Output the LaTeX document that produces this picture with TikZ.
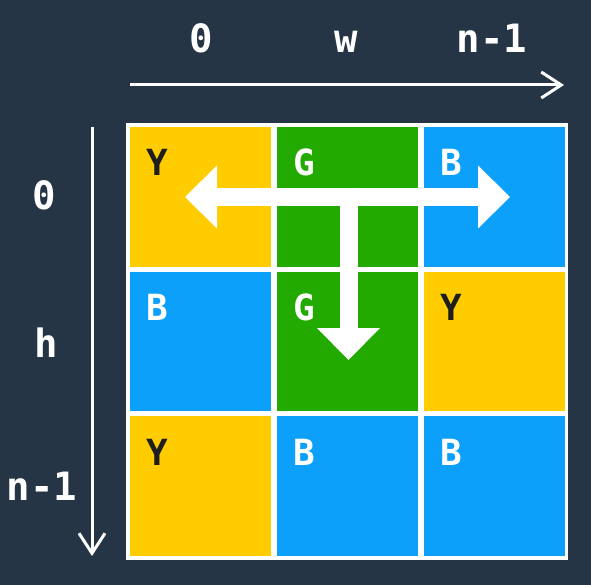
\documentclass[tikz,border=0pt]{standalone}
\usepackage{fontspec}
\setmonofont{DejaVu Sans Mono}
\usetikzlibrary{arrows.meta,positioning}

\definecolor{bgnavy}{RGB}{38,53,70}
\definecolor{yel}{RGB}{255,204,0}
\definecolor{grn}{RGB}{34,170,0}
\definecolor{blu}{RGB}{12,160,250}
\definecolor{ink}{RGB}{30,30,30}

\begin{document}
\begin{tikzpicture}[x=1pt, y=-1pt,
    cell/.style={anchor=north west, minimum width=141pt, minimum height=139.5pt, inner sep=0pt, outer sep=0pt},
    tag/.style={anchor=base, inner sep=0pt, font=\ttfamily\bfseries\fontsize{36}{36}\selectfont},
    axislab/.style={anchor=base, inner sep=0pt, text=white, font=\ttfamily\bfseries\fontsize{39}{39}\selectfont},
    axis/.style={white, line width=3pt, -{Straight Barb[length=20pt,width=26pt]}},
    bigarrow/.style={white, line width=18pt},
    bigtip/.tip={Triangle[length=32pt,width=63pt,line width=0pt]}]
    % 背景
    \fill[bgnavy] (0,0) rectangle (591,585);
    \fill[white] (126,123) rectangle (568,560);

    % 网格单元 (行/列/颜色/字母/字色)
    \foreach \r/\c/\col/\txt/\tcol in {1/1/yel/Y/ink, 1/2/grn/G/white, 1/3/blu/B/white,
                                        2/1/blu/B/white, 2/2/grn/G/white, 2/3/yel/Y/ink,
                                        3/1/yel/Y/ink, 3/2/blu/B/white, 3/3/blu/B/white} {
        \node[cell, fill=\col] (c\r\c) at ({130+147*(\c-1)},{127+144.5*(\r-1)}) {};
        \node[tag, text=\tcol] (t\r\c) at ([xshift=27pt,yshift=-49pt]c\r\c.north west) {\txt};
    }

    % 横轴
    \coordinate (xs) at (130,85);
    \coordinate (xe) at (564,85);
    \draw[axis] (xs) -- (xe);
    \node[axislab] (x0) at (201,53) {0};
    \node[axislab] (xw) at (346.5,53) {w};
    \node[axislab] (xn) at (492,53) {n-1};

    % 纵轴
    \coordinate (ys) at (92,127);
    \coordinate (ye) at (92,556);
    \draw[axis] (ys) -- (ye);
    \node[axislab] (y0) at (44,210) {0};
    \node[axislab] (yh) at (46,357) {h};
    \node[axislab] (yn) at (42,500) {n-1};

    % 白色大箭头
    \coordinate (hub) at (348.5,197);
    \coordinate (west) at (185,197);
    \coordinate (east) at (510,197);
    \coordinate (south) at (348.5,360);
    \draw[bigarrow, bigtip-bigtip] (west) -- (east);
    \draw[bigarrow, -bigtip] ([yshift=9pt]hub) -- (south);
\end{tikzpicture}
\end{document}
